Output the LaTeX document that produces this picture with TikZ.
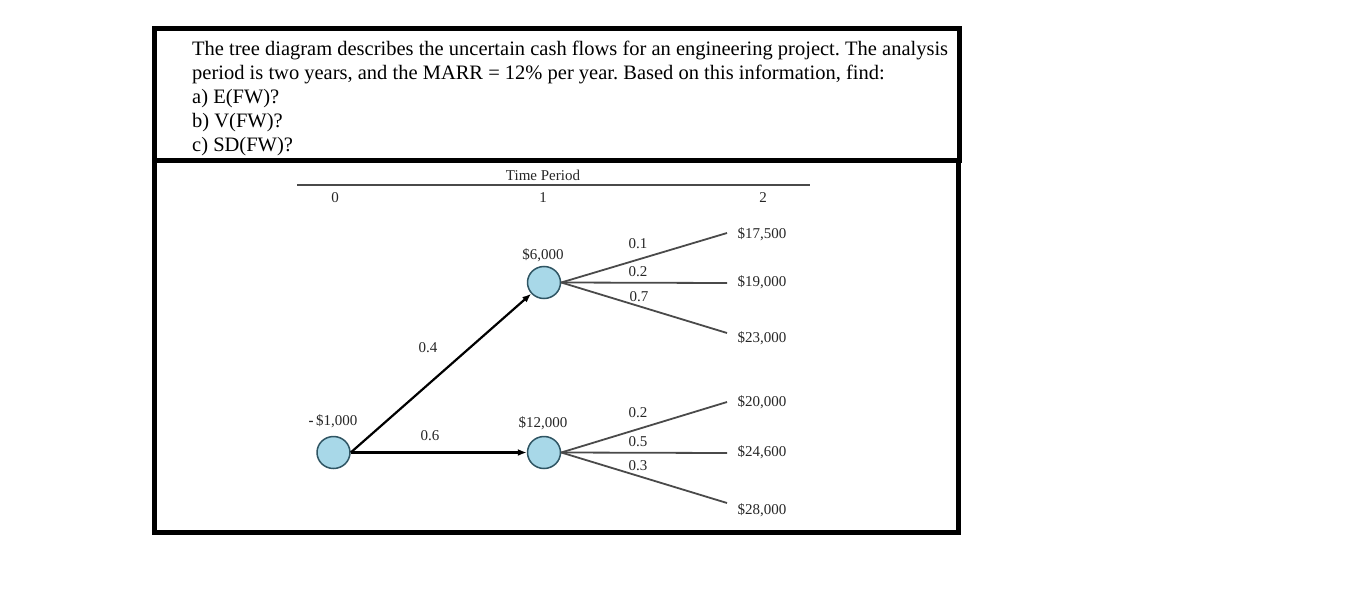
\documentclass[tikz,border=0pt]{standalone}
\usepackage{fontspec}
\setmainfont{Liberation Serif}
\usetikzlibrary{arrows.meta,shapes.geometric}
\definecolor{nodefill}{HTML}{A8D8E8}
\definecolor{nodeedge}{HTML}{2F5563}
\definecolor{branch}{HTML}{4A4A4A}
\tikzset{
  frame/.style={line width=5pt, draw=black},
  chance/.style={ellipse, minimum width=33pt, minimum height=32pt, inner sep=0pt, draw=nodeedge, fill=nodefill, line width=1.5pt},
  lbl/.style={font=\fontsize{15}{17}\selectfont, inner sep=0pt, text=black!85},
  qtext/.style={font=\fontsize{20.5}{24}\selectfont, inner sep=0pt, anchor=base west},
  arr/.style={line width=2.2pt, -{Latex[length=9pt,width=7pt]}},
  br/.style={draw=branch, line width=1.8pt},
}
\begin{document}
\frenchspacing
\begin{tikzpicture}[x=1pt,y=-1pt]
\useasboundingbox (0,0) rectangle (1348,604);
% frames
\draw[frame] (154.5,28.5) rectangle (959.5,160.5);
\draw[frame] (154.5,160.5) -- (154.5,532.5) -- (958.5,532.5) -- (958.5,160.5);
% question text
\node[qtext] (q1) at (192,56) {The tree diagram describes the uncertain cash flows for an engineering project. The analysis};
\node[qtext] (q2) at (192,80) {period is two years, and the MARR = 12\% per year. Based on this information, find:};
\node[qtext] (q3) at (192,104) {a) E(FW)?};
\node[qtext] (q4) at (192,128) {b) V(FW)?};
\node[qtext] (q5) at (192,152) {c) SD(FW)?};
% time axis
\node[lbl] (tp) at (543,175) {Time Period};
\coordinate (axl) at (297,185);
\coordinate (axr) at (810,185);
\draw[line width=1.5pt, draw=branch] (axl) -- (axr);
\node[lbl] (t0) at (335,198) {0};
\node[lbl] (t1) at (543,198) {1};
\node[lbl] (t2) at (763,198) {2};
% chance nodes
\node[chance] (n0) at (333.5,452.5) {};
\node[chance] (n1) at (544,282.5) {};
\node[chance] (n2) at (544,452.5) {};
\node[lbl] (v0) at (333,421) {\textbf{-}\,\$1,000};
\node[lbl] (v1) at (543,255) {\$6,000};
\node[lbl] (v2) at (543,423) {\$12,000};
% main arrows
\draw[arr] (n0.east) -- (n1);
\draw[arr] (n0.east) -- (n2);
\node[lbl] (p04) at (428,348) {0.4};
\node[lbl] (p06) at (430,436) {0.6};
% branch endpoints
\coordinate (e1) at (727,233);
\coordinate (e2) at (727,283);
\coordinate (e3) at (727,333);
\coordinate (e4) at (727,402);
\coordinate (e5) at (727,453);
\coordinate (e6) at (727,503);
\draw[br] (n1.east) -- (e1);
\draw[br] (n1.east) -- (e2);
\draw[br] (n1.east) -- (e3);
\draw[br] (n2.east) -- (e4);
\draw[br] (n2.east) -- (e5);
\draw[br] (n2.east) -- (e6);
% probabilities
\node[lbl] (p1) at (638,244) {0.1};
\node[lbl] (p2) at (638,272) {0.2};
\node[lbl] (p3) at (639,297) {0.7};
\node[lbl] (p4) at (638,413) {0.2};
\node[lbl] (p5) at (638,442) {0.5};
\node[lbl] (p6) at (638,466) {0.3};
% outcomes
\node[lbl] (o1) at (762,234) {\$17,500};
\node[lbl] (o2) at (762,282) {\$19,000};
\node[lbl] (o3) at (762,338) {\$23,000};
\node[lbl] (o4) at (762,402) {\$20,000};
\node[lbl] (o5) at (762,452) {\$24,600};
\node[lbl] (o6) at (762,510) {\$28,000};
\end{tikzpicture}
\end{document}
